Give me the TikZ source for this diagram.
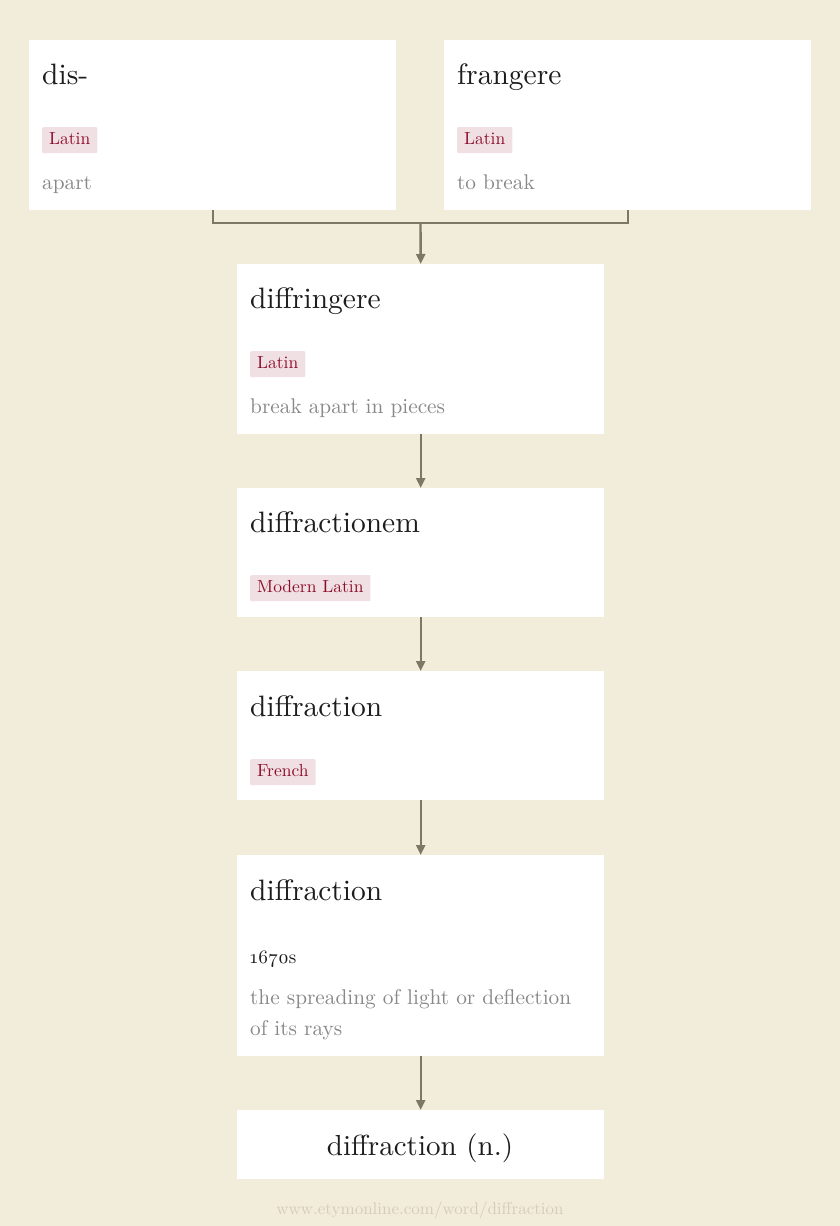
\documentclass[tikz,border=0pt]{standalone}
\usepackage{fontspec}
\setmainfont{lmroman10-regular.otf}
\usetikzlibrary{arrows.meta}
\definecolor{bgc}{HTML}{F2ECDA}
\definecolor{linec}{HTML}{7D7766}
\definecolor{tagbg}{HTML}{F0E0E3}
\definecolor{tagfg}{HTML}{8E0E2A}
\definecolor{titlec}{HTML}{1C1C1C}
\definecolor{glossc}{HTML}{888888}
\definecolor{urlc}{HTML}{D5CCBA}
\tikzset{
  box/.style={fill=white, draw=none, anchor=north west, inner sep=0pt, minimum width=367pt},
  wtitle/.style={anchor=base west, inner sep=0pt, text=titlec, font=\fontsize{29.5}{34}\selectfont},
  wtag/.style={anchor=north west, fill=tagbg, text=tagfg, inner xsep=7pt, inner ysep=0pt, minimum height=26pt, text height=12pt, text depth=3.5pt, rounded corners=1pt, font=\fontsize{17.5}{20}\selectfont},
  wgloss/.style={anchor=base west, inner sep=0pt, text=glossc, font=\fontsize{21.3}{31}\selectfont},
  conn/.style={draw=linec, line width=2.4pt},
  arr/.style={conn, -{Triangle[length=10pt,width=9pt]}}
}
\begin{document}
\begin{tikzpicture}[x=1pt,y=-1pt]
\fill[bgc] (0,0) rectangle (840,1226);
\useasboundingbox (0,0) rectangle (840,1226);
% boxes
\node[box, minimum height=170pt] (b1) at (29,40) {};
\node[box, minimum height=170pt] (b2) at (444,40) {};
\node[box, minimum height=170pt] (b3) at (237,264) {};
\node[box, minimum height=129pt] (b4) at (237,488) {};
\node[box, minimum height=129pt] (b5) at (237,671) {};
\node[box, minimum height=201pt] (b6) at (237,855) {};
\node[box, minimum height=69pt] (b7) at (237,1110) {};
% connectors
\coordinate (j) at (420.5,223);
\draw[conn] (b1.south) |- (j) -| (b2.south);
\draw[arr] (j) -- (b3.north);
\draw[arr] (b3.south) -- (b4.north);
\draw[arr] (b4.south) -- (b5.north);
\draw[arr] (b5.south) -- (b6.north);
\draw[arr] (b6.south) -- (b7.north);
% texts box 1
\node[wtitle] (t1) at (42,84) {dis-};
\node[wtag] (g1) at (42,127) {Latin};
\node[wgloss] (l1) at (42,189) {apart};
% box 2
\node[wtitle] (t2) at (457,84) {frangere};
\node[wtag] (g2) at (457,127) {Latin};
\node[wgloss] (l2) at (457,189) {to break};
% box 3
\node[wtitle] (t3) at (250,308) {diffringere};
\node[wtag] (g3) at (250,351) {Latin};
\node[wgloss] (l3) at (250,413) {break apart in pieces};
% box 4
\node[wtitle] (t4) at (250,532) {diffractionem};
\node[wtag] (g4) at (250,575) {Modern Latin};
% box 5
\node[wtitle] (t5) at (250,716) {diffraction};
\node[wtag] (g5) at (250,759) {French};
% box 6
\node[wtitle] (t6) at (250,900) {diffraction};
\node[anchor=base west, inner sep=0pt, text=titlec, font=\fontsize{19}{22}\selectfont\addfontfeatures{Numbers=OldStyle}] (d6) at (250,963) {1670s};
\node[wgloss, align=left, text width=340pt] (l6) at (250,1004) {the spreading of light or deflection\\of its rays};
% box 7
\node[anchor=base, inner sep=0pt, text=titlec, font=\fontsize{29}{34}\selectfont] (t7) at (420,1155) {diffraction (n.)};
% url
\node[anchor=base, inner sep=0pt, text=urlc, font=\fontsize{17}{20}\selectfont] (url) at (420,1214) {www.etymonline.com/word/diffraction};
\end{tikzpicture}
\end{document}
